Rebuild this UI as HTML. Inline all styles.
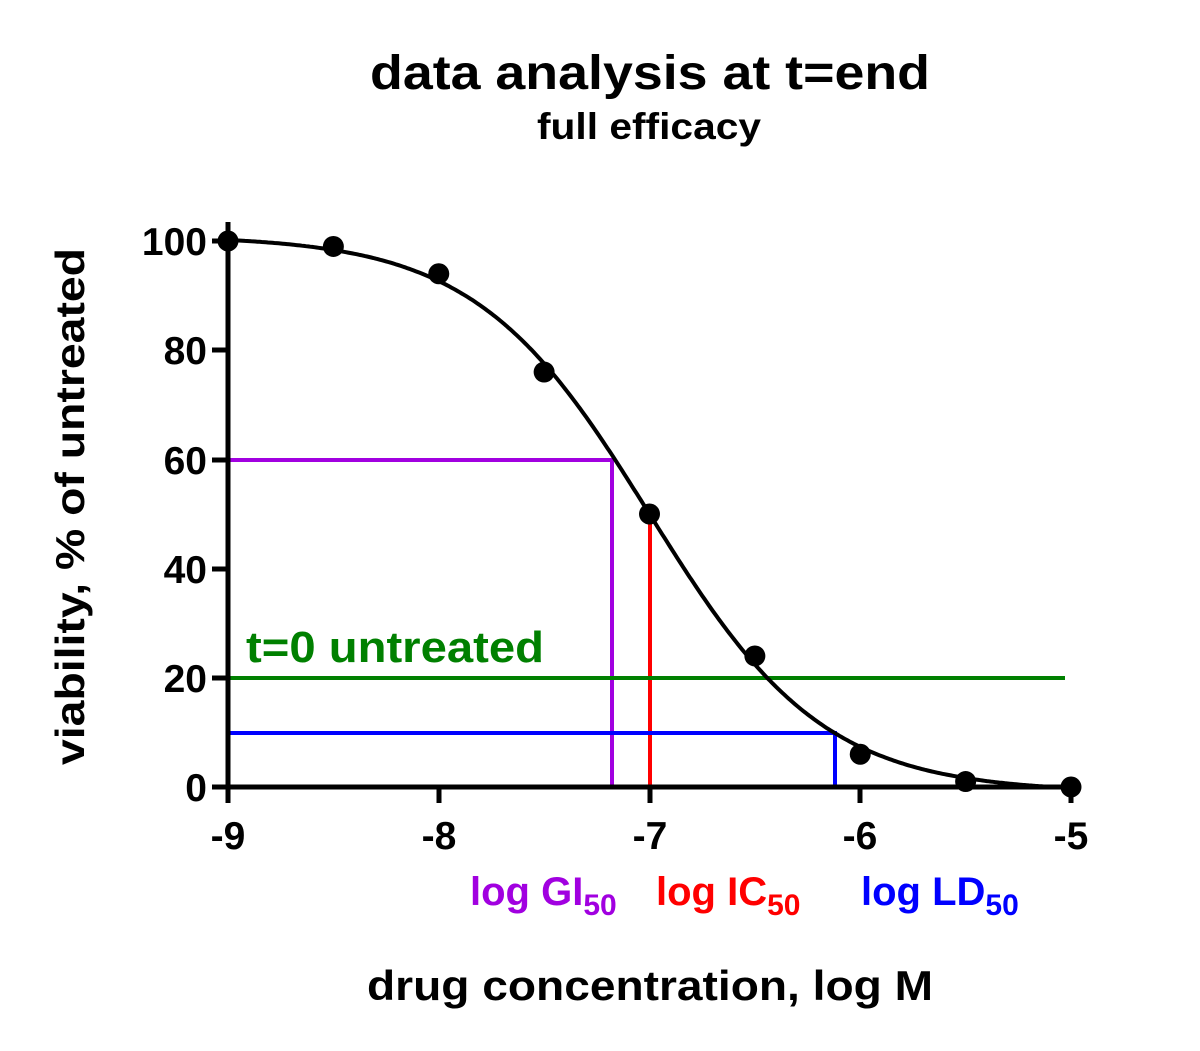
<!DOCTYPE html>
<html><head><meta charset="utf-8"><style>
html,body{margin:0;padding:0;background:#fff;}
svg{display:block;font-family:"Liberation Sans",Arial,sans-serif;font-weight:bold;}
</style></head><body>
<svg id="s" width="1200" height="1051" viewBox="0 0 1200 1051" xmlns="http://www.w3.org/2000/svg">
<text x="370" y="89" font-size="48" textLength="560" lengthAdjust="spacingAndGlyphs">data analysis at t=end</text>
<text x="537" y="139" font-size="37" textLength="224" lengthAdjust="spacingAndGlyphs">full efficacy</text>
<text transform="translate(84,765) rotate(-90)" font-size="41" textLength="517" lengthAdjust="spacingAndGlyphs">viability, % of untreated</text>
<text x="367" y="1000" font-size="42" textLength="566" lengthAdjust="spacingAndGlyphs">drug concentration, log M</text>
<polyline points="228,460 612,460 612,787" fill="none" stroke="#a100e0" stroke-width="4"/>
<line x1="650" y1="514" x2="650" y2="787" stroke="#ff0000" stroke-width="4"/>
<polyline points="228,733 835,733 835,787" fill="none" stroke="#0000ff" stroke-width="4"/>
<line x1="228" y1="678" x2="1065" y2="678" stroke="#008000" stroke-width="4"/>
<text x="246" y="662" font-size="44" fill="#008000" textLength="298" lengthAdjust="spacingAndGlyphs">t=0 untreated</text>
<path id="c" fill="none" stroke="#000" stroke-width="4"/>
<g id="pts" fill="#000"></g>
<g stroke="#000" stroke-width="5">
<line x1="228" y1="222" x2="228" y2="803"/>
<line x1="212" y1="787" x2="1073" y2="787"/>
<line x1="212" y1="241" x2="228" y2="241"/>
<line x1="212" y1="350" x2="228" y2="350"/>
<line x1="212" y1="460" x2="228" y2="460"/>
<line x1="212" y1="569" x2="228" y2="569"/>
<line x1="212" y1="678" x2="228" y2="678"/>
<line x1="439" y1="787" x2="439" y2="803"/>
<line x1="650" y1="787" x2="650" y2="803"/>
<line x1="860" y1="787" x2="860" y2="803"/>
<line x1="1071" y1="787" x2="1071" y2="803"/>
</g>
<g font-size="39" text-anchor="end">
<text x="207" y="255">100</text>
<text x="207" y="364">80</text>
<text x="207" y="474">60</text>
<text x="207" y="583">40</text>
<text x="207" y="692">20</text>
<text x="207" y="801">0</text>
</g>
<g font-size="39" text-anchor="middle">
<text x="228" y="849">-9</text>
<text x="439" y="849">-8</text>
<text x="650" y="849">-7</text>
<text x="860" y="849">-6</text>
<text x="1071" y="849">-5</text>
</g>
<g font-size="40">
<text x="470" y="905" fill="#a100e0">log GI<tspan font-size="30" dy="10">50</tspan></text>
<text x="656" y="905" fill="#ff0000">log IC<tspan font-size="30" dy="10">50</tspan></text>
<text x="861" y="905" fill="#0000ff">log LD<tspan font-size="30" dy="10">50</tspan></text>
</g>
</svg>
<script>
function X(v){return 228+(v+9)*210.75;}
function Y(v){return 787-v*5.46;}
function f(x){var y=-1+102/(1+Math.pow(10,(x+7)*1.05));return Math.max(y,0);}
var d="";for(var i=0;i<=400;i++){var x=-9+i*4/400;d+=(i?"L":"M")+X(x).toFixed(1)+","+Y(f(x)).toFixed(1);}
document.getElementById("c").setAttribute("d",d);
var data=[[-9,100],[-8.5,99],[-8,94],[-7.5,76],[-7,50],[-6.5,24],[-6,6],[-5.5,1],[-5,0]];
var g=document.getElementById("pts"),h="";
data.forEach(function(p){h+='<circle cx="'+X(p[0])+'" cy="'+Y(p[1])+'" r="10.5"/>';});
g.innerHTML=h;
</script>
</body></html>
